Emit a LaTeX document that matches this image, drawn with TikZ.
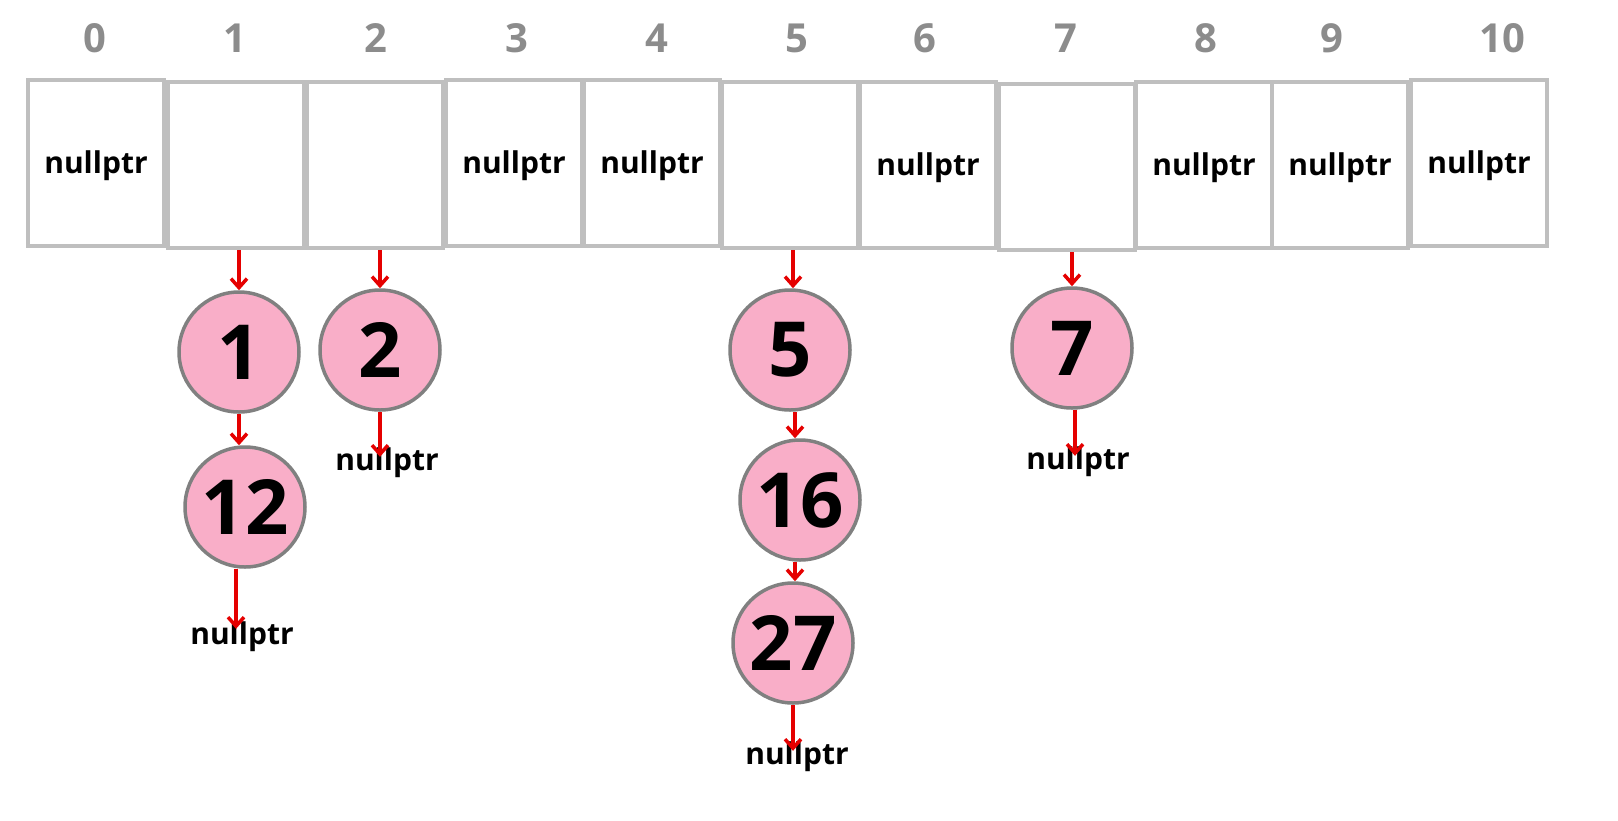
\documentclass[tikz,border=0pt]{standalone}
\usepackage{fontspec}
\setmainfont{Open Sans}
\usetikzlibrary{arrows.meta}
\definecolor{ballpink}{RGB}{249,174,200}
\begin{document}
\begin{tikzpicture}[x=1pt,y=-1pt,
  cell/.style={draw=black!25,line width=4pt,minimum width=136pt,minimum height=166pt,inner sep=0},
  idx/.style={text=black!45,font=\fontsize{40}{40}\selectfont\bfseries},
  np/.style={font=\fontsize{30}{30}\selectfont\bfseries,inner sep=1pt},
  ball/.style={circle,draw=black!50,line width=3.5pt,fill=ballpink,minimum size=120pt,inner sep=0,font=\fontsize{76}{76}\selectfont\bfseries},
  ar/.style={draw=red!90!black,line width=3.5pt,-{Straight Barb[length=9pt,width=16pt]}}]
\useasboundingbox (0,0) rectangle (1618,820);
\foreach \i/\x/\y/\t in {0/96/163/nullptr,1/236/165/,2/375/165/,3/514/163/nullptr,4/652/163/nullptr,5/790/165/,6/928/165/nullptr,7/1067/167/,8/1204/165/nullptr,9/1340/165/nullptr,10/1479/163/nullptr}{
  \node[cell] (c\i) at (\x,\y) {};
  \node[np,yshift=-3pt] (t\i) at (c\i) {\t};
}
\foreach \i/\x in {0/95,1/235,2/376,3/517,4/657,5/797,6/925,7/1066,8/1206,9/1332,10/1502}
  \node[idx] (i\i) at (\x,38) {\i};
\node[ball] (b1) at (239,352) {1};
\node[ball] (b12) at (245,507) {12};
\node[ball] (b2) at (380,350) {2};
\node[ball] (b5) at (790,350) {5};
\node[ball] (b16) at (800,500) {16};
\node[ball] (b27) at (793,643) {27};
\node[ball] (b7) at (1072,348) {7};
\node[np] (n12) at (242,637) {nullptr};
\node[np] (n2) at (387,463) {nullptr};
\node[np] (n27) at (797,757) {nullptr};
\node[np] (n7) at (1078,462) {nullptr};
\draw[ar] (c1.south -| b1) -- (b1.north);
\draw[ar] (c2.south -| b2) -- (b2.north);
\draw[ar] (c5.south -| 793,0) -- (b5.north -| 793,0);
\draw[ar] (c7.south -| b7) -- (b7.north);
\draw[ar] (b1.south) -- (b12.north -| b1);
\draw[ar] (b12.south -| 236,0) -- ([yshift=-8pt]n12.north -| 236,0);
\draw[ar] (b2.south) -- ([yshift=-10pt]n2.north -| b2);
\draw[ar] (b5.south -| 795,0) -- (b16.north -| 795,0);
\draw[ar] (b16.south -| 795,0) -- (b27.north -| 795,0);
\draw[ar] (b27.south) -- ([yshift=-10pt]n27.north -| b27);
\draw[ar] (b7.south -| 1075,0) -- ([yshift=-10pt]n7.north -| 1075,0);
\end{tikzpicture}
\end{document}
